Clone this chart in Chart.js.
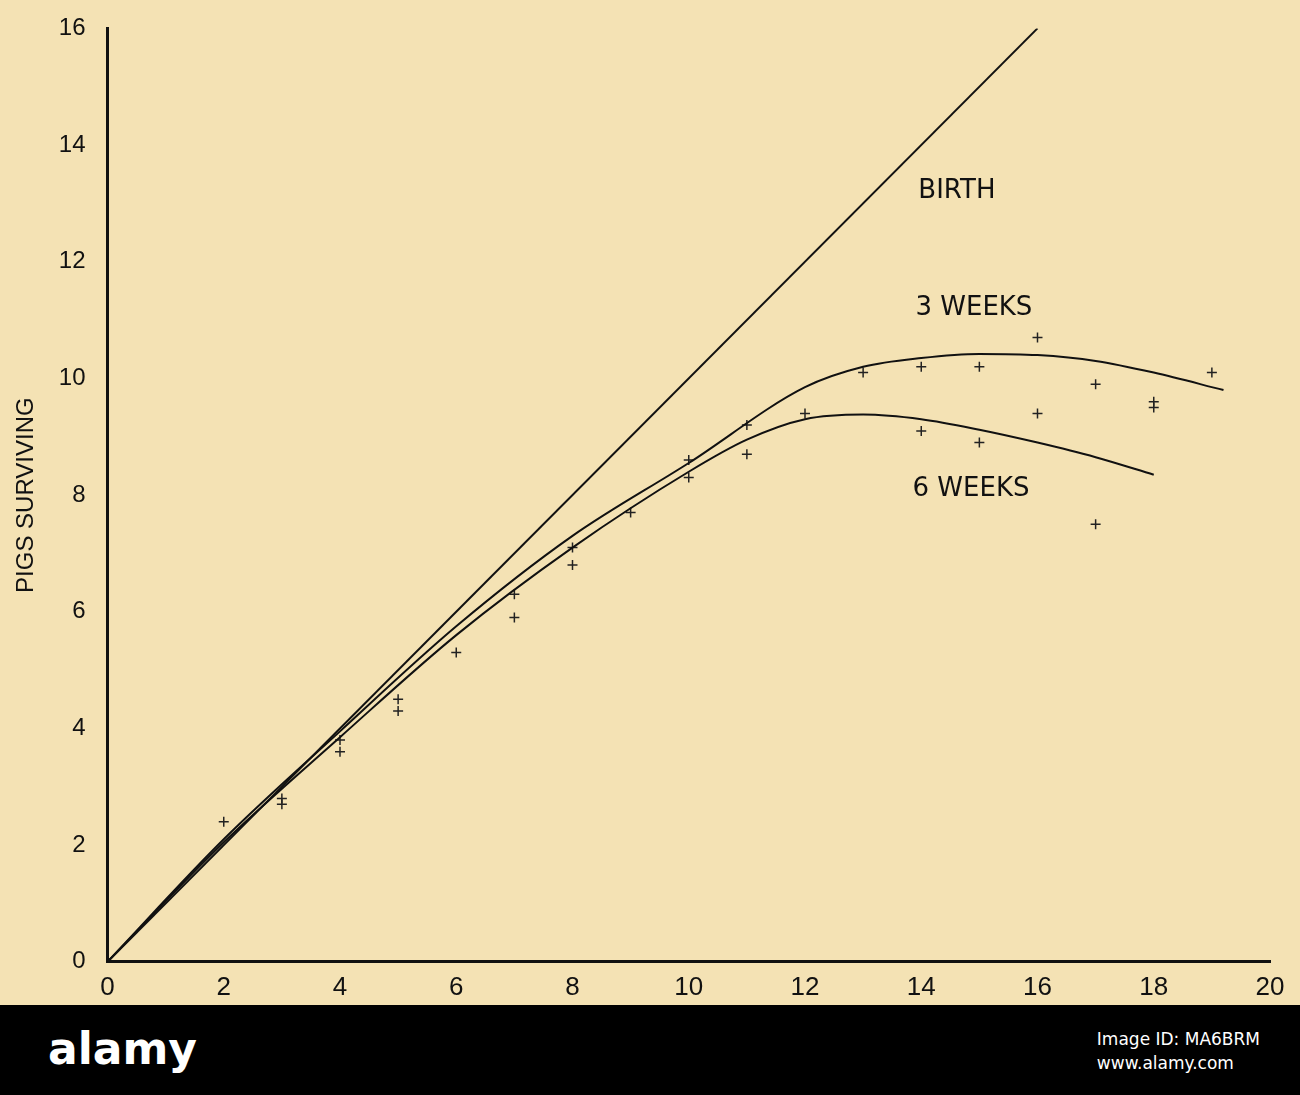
<!DOCTYPE html>
<html><head><meta charset="utf-8">
<script src="https://cdn.jsdelivr.net/npm/chart.js@4"></script>
<style>
body{margin:0;width:1300px;height:1095px;background:#f4e2b4;overflow:hidden;font-family:"DejaVu Sans",sans-serif}
#wrap{position:absolute;left:0;top:0;width:1300px;height:1005px}
#band{position:absolute;left:0;top:1005px;width:1300px;height:90px;background:#000;color:#fff}
</style></head><body>
<div id="wrap"><canvas id="c" width="1300" height="1005"></canvas></div>
<div id="band"><div style="position:absolute;left:48px;top:18px;font-size:44px;font-weight:bold">alamy</div>
<div style="position:absolute;right:40px;top:22px;font-size:17px;text-align:left;line-height:24px">Image ID: MA6BRM<br>www.alamy.com</div></div>
<script>
const birthX=[0,16];const birthY=[0,16];
const w3X=[0,2,4,6,8,10,12,13,14,15,16,17,18,19.2];
const w3Y=[0,2.1,3.95,5.75,7.3,8.55,9.85,10.2,10.35,10.42,10.4,10.3,10.1,9.8];
const w6X=[0,2,4,6,8,10,11,12,13,14,15,16,17,18];
const w6Y=[0,2.05,3.85,5.6,7.1,8.4,8.95,9.3,9.38,9.3,9.12,8.9,8.65,8.35];
const p3X=[2,3,4,5,6,7,8,9,10,11,12,13,14,15,16,17,18,19];
const p3Y=[2.4,2.8,3.8,4.5,5.3,6.3,7.1,7.7,8.6,9.2,9.4,10.1,10.2,10.2,10.7,9.9,9.6,10.1];
const p6X=[3,4,5,7,8,10,11,14,15,16,17,18];
const p6Y=[2.7,3.6,4.3,5.9,6.8,8.3,8.7,9.1,8.9,9.4,7.5,9.5];
const labels=[["BIRTH",13.95,13.2],["3 WEEKS",13.9,11.2],["6 WEEKS",13.85,8.1]];
const xy=(a,b)=>a.map((v,i)=>({x:v,y:b[i]}));
const lineDs=(d)=>({data:d,type:'line',borderColor:'#111',borderWidth:2,pointRadius:0,fill:false,tension:0,cubicInterpolationMode:'monotone'});
const txt={id:'txt',afterDatasetsDraw(ch){const c=ch.ctx,x=ch.scales.x,y=ch.scales.y;c.save();c.fillStyle='#111';c.font='26px "DejaVu Sans"';c.textBaseline='middle';
labels.forEach(l=>c.fillText(l[0],x.getPixelForValue(l[1]),y.getPixelForValue(l[2])));c.restore();}};
new Chart(document.getElementById('c'),{type:'scatter',
data:{datasets:[lineDs(xy(birthX,birthY)),lineDs(xy(w3X,w3Y)),lineDs(xy(w6X,w6Y)),
{data:xy(p3X,p3Y),pointStyle:'cross',pointRadius:5,borderColor:'#222',borderWidth:1.5},
{data:xy(p6X,p6Y),pointStyle:'cross',pointRadius:5,borderColor:'#222',borderWidth:1.5}]},
options:{responsive:false,animation:false,devicePixelRatio:1,
layout:{padding:{top:15,right:30,left:8,bottom:0}},
plugins:{legend:{display:false},tooltip:{enabled:false}},
scales:{x:{min:0,max:20,ticks:{stepSize:2,color:'#111',font:{size:26},padding:2},grid:{display:false},border:{color:'#111',width:3}},
y:{min:0,max:16,ticks:{stepSize:2,color:'#111',font:{size:24},padding:14},grid:{display:false},border:{color:'#111',width:3},
title:{display:true,text:'PIGS SURVIVING',color:'#111',font:{size:24}}}}},
plugins:[txt]});
</script>
</body></html>
